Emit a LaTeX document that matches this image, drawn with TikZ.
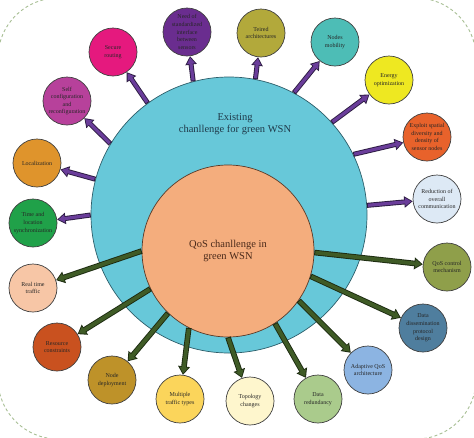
\documentclass[tikz,border=0pt]{standalone}
\usepackage{fontspec}
\setmainfont{Liberation Serif}
\usetikzlibrary{arrows.meta}
\definecolor{cyanfill}{HTML}{67C8D9}
\definecolor{cyanline}{HTML}{2D5E6A}
\definecolor{qosfill}{HTML}{F4AD7D}
\definecolor{qosline}{HTML}{5A3A28}
\definecolor{exttext}{HTML}{1F3A4A}
\definecolor{qostext}{HTML}{4A2A1A}
\definecolor{pin}{HTML}{6A3D9A}
\definecolor{pout}{HTML}{2B1B40}
\definecolor{gin}{HTML}{3F5B26}
\definecolor{gout}{HTML}{1C2A10}
\definecolor{satline}{HTML}{404040}
\definecolor{framecol}{HTML}{A8BF94}
\definecolor{cA}{HTML}{E5197E}
\definecolor{cB}{HTML}{6A2D8F}
\definecolor{cC}{HTML}{B2A93B}
\definecolor{cD}{HTML}{4DBDB6}
\definecolor{cE}{HTML}{EEE821}
\definecolor{cF}{HTML}{E8622B}
\definecolor{cG}{HTML}{DDE9F5}
\definecolor{cH}{HTML}{8F9F4A}
\definecolor{cI}{HTML}{4F7E9E}
\definecolor{cJ}{HTML}{8CB4E2}
\definecolor{cK}{HTML}{AACB8C}
\definecolor{cL}{HTML}{FEF6CD}
\definecolor{cM}{HTML}{FBD55B}
\definecolor{cN}{HTML}{BE9229}
\definecolor{cO}{HTML}{C9511F}
\definecolor{cP}{HTML}{F7C6A6}
\definecolor{cQ}{HTML}{20A149}
\definecolor{cR}{HTML}{DF942C}
\definecolor{cS}{HTML}{B7419B}
\tikzset{
  sat/.style={circle, draw=satline, line width=0.7pt, minimum size=48pt, inner sep=0pt,
    align=center, text=black!85, font=\fontsize{6}{7.6}\selectfont},
  parrout/.style={line width=5pt, draw=pout, -{Triangle[width=11pt,length=8.5pt]}},
  parrin/.style={line width=3.2pt, draw=pin, -{Triangle[width=7.8pt,length=6.3pt]}, shorten >=1.4pt, shorten <=1pt},
  garrout/.style={line width=5.6pt, draw=gout, -{Triangle[width=11.5pt,length=8.5pt]}},
  garrin/.style={line width=3.8pt, draw=gin, -{Triangle[width=8.2pt,length=6.3pt]}, shorten >=1.4pt, shorten <=1pt},
  bigtext/.style={align=center, font=\fontsize{10.5}{12.4}\selectfont}
}
\newcommand{\fatarr}[3]{\draw[#1out] (#2) -- (#3); \draw[#1in] (#2) -- (#3);}
\begin{document}
\begin{tikzpicture}[x=1pt, y=-1pt]
\useasboundingbox (0,0) rectangle (474,437);
\fill[white] (0,0) rectangle (474,437);
\begin{scope}
  \clip (0,0) rectangle (474,437);
  \draw[framecol, line width=0.9pt, dash pattern=on 3pt off 2.5pt, rounded corners=60pt] (-2,-2) rectangle (476,439);
\end{scope}
% central circles
\node[circle, minimum size=276pt, inner sep=0pt, fill=cyanfill, draw=cyanline, line width=0.7pt] (ex) at (229,215) {};
\node[circle, minimum size=172pt, inner sep=0pt, fill=qosfill, draw=qosline, line width=0.7pt] (qos) at (228,251) {};
\node[bigtext, text=exttext] (extxt) at (235,124) {Existing\\chanllenge for green WSN};
\node[bigtext, text=qostext] (qostxt) at (228,251) {QoS chanllenge in\\green WSN};
% satellites
\node[sat, fill=cA] (s1) at (113,52) {Secure\\routing};
\node[sat, fill=cB] (s2) at (187,32) {Need of\\standardized\\interface\\between\\sensors};
\node[sat, fill=cC] (s3) at (261,33) {Teired\\architectures};
\node[sat, fill=cD] (s4) at (335,42) {Nodes\\mobility};
\node[sat, fill=cE] (s5) at (389,80) {Energy\\optimization};
\node[sat, fill=cF] (s6) at (427,137) {Exploit spatial\\diversity and\\density of\\sensor nodes};
\node[sat, fill=cG] (s7) at (437,199) {Reduction of\\overall\\communication};
\node[sat, fill=cH] (s8) at (447,267) {QoS control\\mechanism};
\node[sat, fill=cI] (s9) at (423,328) {Data\\dissemination\\protocol\\design};
\node[sat, fill=cJ] (s10) at (368,370) {Adaptive QoS\\architecture};
\node[sat, fill=cK] (s11) at (318,399) {Data\\redundancy};
\node[sat, fill=cL] (s12) at (250,401) {Topology\\changes};
\node[sat, fill=cM] (s13) at (180,399) {Multiple\\traffic types};
\node[sat, fill=cN] (s14) at (112,380) {Node\\deployment};
\node[sat, fill=cO] (s15) at (57,347) {Resource\\constraints};
\node[sat, fill=cP] (s16) at (33,288) {Real time\\traffic};
\node[sat, fill=cQ] (s17) at (33,223) {Time and\\location\\synchronization};
\node[sat, fill=cR] (s18) at (37,163) {Localization};
\node[sat, fill=cS] (s19) at (67,101) {Self\\configuration\\and\\reconfiguration};
% purple arrows
\fatarr{parr}{ex.149}{s19}
\fatarr{parr}{ex.126}{s1}
\fatarr{parr}{ex.105}{s2}
\fatarr{parr}{ex.79}{s3}
\fatarr{parr}{ex.62}{s4}
\fatarr{parr}{ex.42}{s5}
\fatarr{parr}{ex.26}{s6}
\fatarr{parr}{ex.4}{s7}
\fatarr{parr}{ex.180}{s17}
\fatarr{parr}{ex.165}{s18}
% green arrows
\fatarr{garr}{qos.-1}{s8}
\fatarr{garr}{qos.-17}{s9}
\fatarr{garr}{qos.-35}{s10}
\fatarr{garr}{qos.-57}{s11}
\fatarr{garr}{qos.-90}{s12}
\fatarr{garr}{qos.-117}{s13}
\fatarr{garr}{qos.-134}{s14}
\fatarr{garr}{qos.-154}{s15}
\fatarr{garr}{qos.180}{s16}
\end{tikzpicture}
\end{document}
